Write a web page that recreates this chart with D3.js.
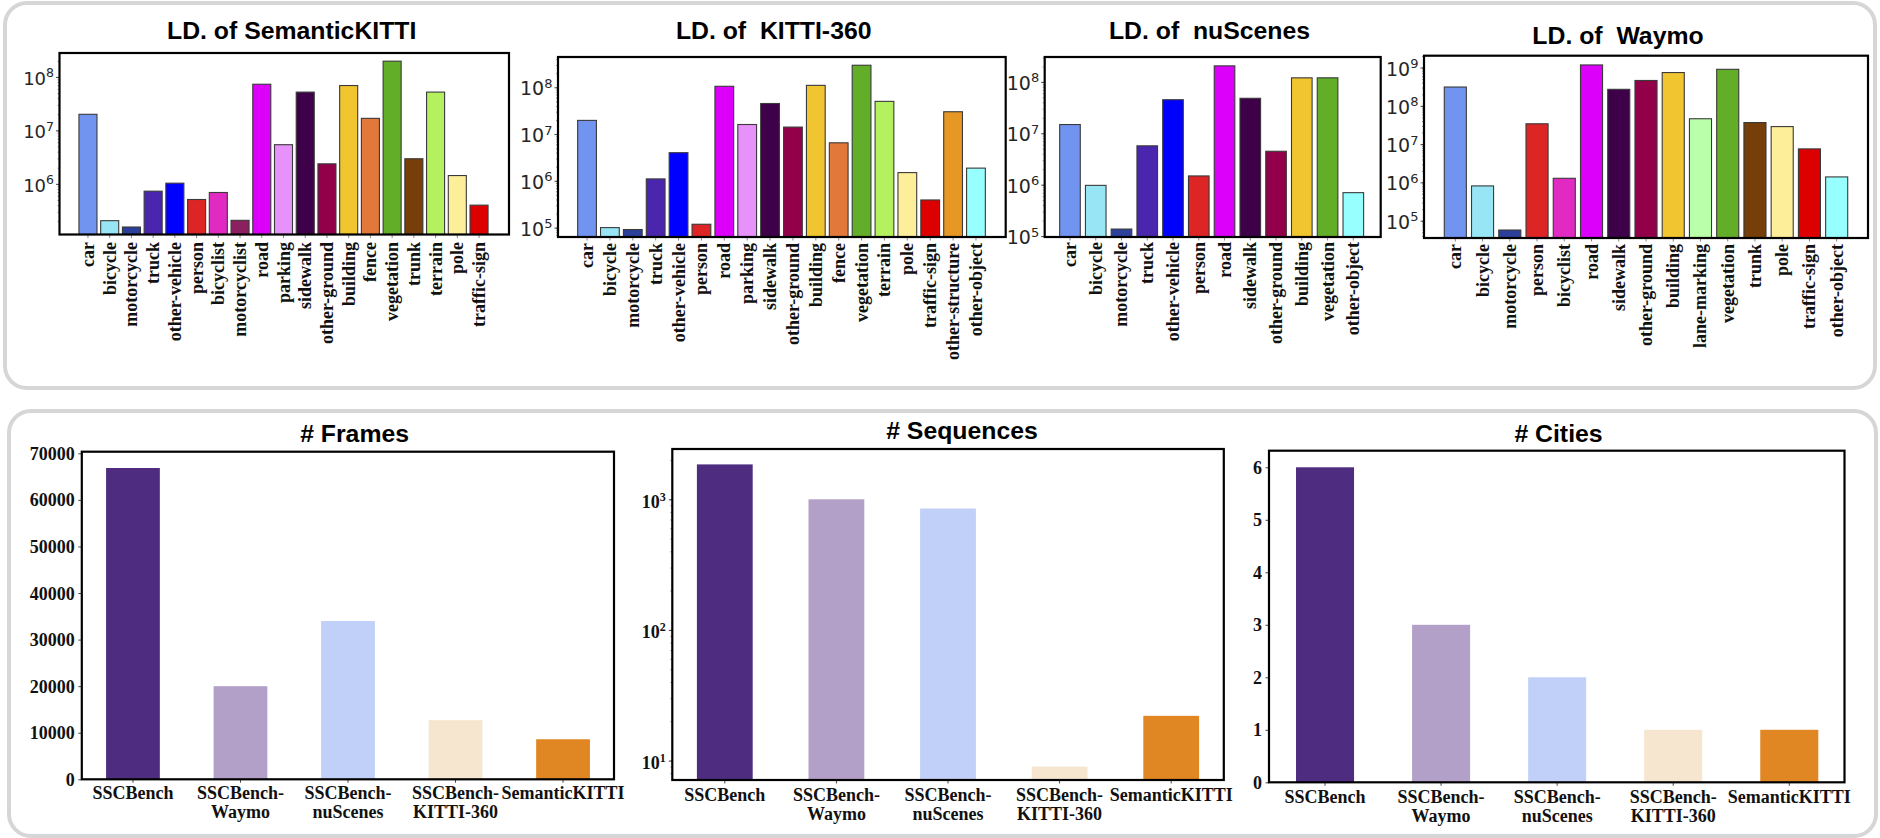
<!DOCTYPE html>
<html>
<head>
<meta charset="utf-8">
<title>Dataset statistics</title>
<script src="https://cdn.jsdelivr.net/npm/d3@7/dist/d3.min.js"></script>
<style>
    html, body { margin: 0; padding: 0; background: #fff; }
    svg { display: block; }
    .title { font-family: "Liberation Sans", Arial, sans-serif; font-weight: bold; font-size: 24.8px; fill: #000; white-space: pre; text-anchor: middle; }
    .cat text { font-family: "Liberation Serif", serif; font-weight: bold; font-size: 18px; fill: #111; }
    .val text { font-family: "DejaVu Sans", sans-serif; fill: #262626; }
    .bold-val text { font-family: "Liberation Serif", serif; font-weight: bold; font-size: 18px; fill: #111; }
</style>
</head>
<body>
<div id="chart"></div>
<script>
// Class names per dataset
const semanticKittiClasses = ['car', 'bicycle', 'motorcycle', 'truck', 'other-vehicle', 'person', 'bicyclist', 'motorcyclist', 'road', 'parking', 'sidewalk', 'other-ground', 'building', 'fence', 'vegetation', 'trunk', 'terrain', 'pole', 'traffic-sign'];
const kitti360Classes = ['car', 'bicycle', 'motorcycle', 'truck', 'other-vehicle', 'person', 'road', 'parking', 'sidewalk', 'other-ground', 'building', 'fence', 'vegetation', 'terrain', 'pole', 'traffic-sign', 'other-structure', 'other-object'];
const nuScenesClasses = ['car', 'bicycle', 'motorcycle', 'truck', 'other-vehicle', 'person', 'road', 'sidewalk', 'other-ground', 'building', 'vegetation', 'other-object'];
const waymoClasses = ['car', 'bicycle', 'motorcycle', 'person', 'bicyclist', 'road', 'sidewalk', 'other-ground', 'building', 'lane-marking', 'vegetation', 'trunk', 'pole', 'traffic-sign', 'other-object'];

// Label distribution values
const semanticKittiValues = [2.0e7, 2.05e5, 1.56e5, 7.3e5, 1.03e6, 5.1e5, 6.9e5, 2.08e5, 7.3e7, 5.4e6, 5.2e7, 2.37e6, 6.9e7, 1.68e7, 1.97e8, 2.95e6, 5.2e7, 1.43e6, 4.0e5];
const kitti360Values = [1.96e7, 1.0e5, 9.1e4, 1.1e6, 4.0e6, 1.18e5, 1.05e8, 1.6e7, 4.5e7, 1.41e7, 1.1e8, 6.5e6, 2.96e8, 5.0e7, 1.5e6, 3.9e5, 3.0e7, 1.87e6];
const nuScenesValues = [1.48e7, 9.7e5, 1.37e5, 5.7e6, 4.5e7, 1.48e6, 2.05e8, 4.8e7, 4.47e6, 1.2e8, 1.2e8, 7.0e5];
const waymoValues = [3.1e8, 8.1e5, 5.7e4, 3.4e7, 1.28e6, 1.17e9, 2.7e8, 4.6e8, 7.4e8, 4.6e7, 9.0e8, 3.66e7, 2.87e7, 7.5e6, 1.39e6];

// Dataset comparison
const datasets = ['SSCBench', 'SSCBench-Waymo', 'SSCBench-nuScenes', 'SSCBench-KITTI-360', 'SemanticKITTI'];
const datasetLabels = [['SSCBench'], ['SSCBench-', 'Waymo'], ['SSCBench-', 'nuScenes'], ['SSCBench-', 'KITTI-360'], ['SemanticKITTI']];
const frameCounts = [66850, 20000, 34000, 12700, 8600];
const sequenceCounts = [1850, 1000, 850, 9, 22];
const cityCounts = [6, 3, 2, 1, 1];
const frameTicks = [0, 10000, 20000, 30000, 40000, 50000, 60000, 70000];
const cityTicks = [0, 1, 2, 3, 4, 5, 6];

// Colours
const classColours = {
    'car': '#7094f0', 'bicycle': '#98e6f5', 'motorcycle': '#2c3f9a', 'truck': '#4a25ad',
    'other-vehicle': '#0000ff', 'person': '#de2525', 'bicyclist': '#e02ac2', 'motorcyclist': '#8a2060',
    'road': '#dc00fa', 'parking': '#e791fa', 'sidewalk': '#3e0048', 'other-ground': '#92004a',
    'building': '#f0c530', 'fence': '#e2783a', 'vegetation': '#62ae28', 'trunk': '#763e08',
    'terrain': '#b4f15f', 'pole': '#fdee9a', 'traffic-sign': '#dd0000', 'other-structure': '#e69724',
    'other-object': '#98ffff', 'lane-marking': '#baffaa'
};
const datasetColours = ['#4e2d80', '#b3a0c8', '#c1d0f8', '#f7e6cf', '#e08622'];

const svg = d3.select('#chart').append('svg')
    .attr('width', 1880)
    .attr('height', 838);

// Rounded panels behind the two rows
svg.append('rect').attr('x', 5).attr('y', 3).attr('width', 1870).attr('height', 385)
    .attr('rx', 22).attr('fill', 'none').attr('stroke', '#d6d6d6').attr('stroke-width', 4);
svg.append('rect').attr('x', 9).attr('y', 411).attr('width', 1867).attr('height', 425)
    .attr('rx', 22).attr('fill', 'none').attr('stroke', '#d6d6d6').attr('stroke-width', 4);

function drawFrame(g, box) {
    g.append('rect')
        .attr('x', box.left).attr('y', box.top)
        .attr('width', box.right - box.left).attr('height', box.bottom - box.top)
        .attr('fill', 'none').attr('stroke', '#000').attr('stroke-width', 2.2);
}

function drawTitle(text, x, y) {
    svg.append('text').attr('class', 'title').attr('x', x).attr('y', y).text(text);
}

// Writes "10" plus a raised exponent into each major tick label of a log axis
function powerLabels(axisG, dy, mainSize, supSize, supRise) {
    axisG.selectAll('.tick text').each(function(d) {
        const label = d3.select(this).text('').attr('dy', dy).style('font-size', mainSize + 'px');
        label.append('tspan').text('10');
        label.append('tspan')
            .attr('dy', -supRise)
            .style('font-size', supSize + 'px')
            .text(Math.round(Math.log10(d)));
    });
}

function logAxis(g, y, box, majors, opts) {
    // minor ticks first, d3 gives 1..9 per decade
    const minorG = g.append('g')
        .attr('transform', `translate(${box.left},0)`)
        .call(d3.axisLeft(y).tickValues(y.ticks()).tickSize(opts.minorSize).tickFormat(''));
    minorG.select('.domain').remove();
    minorG.selectAll('line').attr('stroke', '#555').attr('stroke-width', 0.6);

    const majorG = g.append('g')
        .attr('class', opts.labelClass)
        .attr('transform', `translate(${box.left},0)`)
        .call(d3.axisLeft(y).tickValues(majors).tickSize(opts.majorSize).tickPadding(opts.padding));
    majorG.select('.domain').remove();
    majorG.selectAll('line').attr('stroke', '#333').attr('stroke-width', 0.9);
    powerLabels(majorG, opts.dy, opts.mainSize, opts.supSize, opts.supRise);
}

// Top row: per class label distribution on a log axis
function drawDistribution(cfg) {
    const box = cfg.box;
    const g = svg.append('g');

    const x = d3.scaleBand()
        .domain(cfg.classes)
        .range(cfg.barRange)
        .paddingInner(cfg.gap)
        .paddingOuter(cfg.gap / 2);

    const y = d3.scaleLog()
        .domain(cfg.yDomain)
        .range([box.bottom, box.top]);

    g.selectAll('.bar')
        .data(cfg.classes)
        .enter()
        .append('rect')
        .attr('class', 'bar')
        .attr('x', d => x(d))
        .attr('width', x.bandwidth())
        .attr('y', (d, i) => y(cfg.values[i]))
        .attr('height', (d, i) => box.bottom - y(cfg.values[i]))
        .attr('fill', d => classColours[d])
        .attr('stroke', '#3a3a3a')
        .attr('stroke-width', 1.1);

    const xAxis = g.append('g')
        .attr('class', 'cat')
        .attr('transform', `translate(0,${box.bottom})`)
        .call(d3.axisBottom(x).tickSize(3.5));
    xAxis.select('.domain').remove();
    xAxis.selectAll('line').attr('stroke', '#666').attr('stroke-width', 0.8);
    xAxis.selectAll('.tick text')
        .attr('text-anchor', 'end')
        .attr('dy', 0)
        .attr('y', 0)
        .attr('transform', `translate(0,${cfg.labelGap}) rotate(-90)`)
        .attr('dominant-baseline', 'central');

    logAxis(g, y, box, cfg.majors, {
        labelClass: 'val', minorSize: 2, majorSize: 3.5, padding: 2,
        dy: cfg.labelDy, mainSize: cfg.mainSize, supSize: cfg.supSize, supRise: 7.5
    });

    drawFrame(g, box);
    drawTitle(cfg.title, cfg.titleX, cfg.titleY);
}

// Bottom row: one bar per dataset
function drawComparison(cfg) {
    const box = cfg.box;
    const g = svg.append('g');

    const x = d3.scaleBand()
        .domain(datasets)
        .range(cfg.barRange)
        .paddingInner(0.5)
        .paddingOuter(0.25);

    const y = cfg.y.range([box.bottom, box.top]);

    g.selectAll('.bar')
        .data(datasets)
        .enter()
        .append('rect')
        .attr('class', 'bar')
        .attr('x', d => x(d))
        .attr('width', x.bandwidth())
        .attr('y', (d, i) => y(cfg.values[i]))
        .attr('height', (d, i) => box.bottom - y(cfg.values[i]))
        .attr('fill', (d, i) => datasetColours[i]);

    const xAxis = g.append('g')
        .attr('class', 'bold-val')
        .attr('transform', `translate(0,${box.bottom})`)
        .call(d3.axisBottom(x).tickSize(3.5));
    xAxis.select('.domain').remove();
    xAxis.selectAll('line').attr('stroke', '#333').attr('stroke-width', 0.9);
    xAxis.selectAll('.tick text').each(function(d, i) {
        const label = d3.select(this).text('').attr('dy', 0).attr('y', cfg.labelY);
        datasetLabels[i].forEach((line, n) => {
            label.append('tspan').attr('x', 0).attr('dy', n === 0 ? 0 : 18.5).text(line);
        });
    });

    if (cfg.majors) {
        logAxis(g, y, box, cfg.majors, {
            labelClass: 'bold-val', minorSize: 2, majorSize: 3.5, padding: 3,
            dy: 8, mainSize: 18, supSize: 12, supRise: 7
        });
    } else {
        const yAxis = g.append('g')
            .attr('class', 'bold-val')
            .attr('transform', `translate(${box.left},0)`)
            .call(d3.axisLeft(y).tickValues(cfg.ticks).tickSize(3.5).tickPadding(3.5).tickFormat(d3.format('d')));
        yAxis.select('.domain').remove();
        yAxis.selectAll('line').attr('stroke', '#333').attr('stroke-width', 0.9);
        yAxis.selectAll('.tick text').attr('dy', 6);
    }

    drawFrame(g, box);
    drawTitle(cfg.title, cfg.titleX, cfg.titleY);
}

drawDistribution({
    title: 'LD. of SemanticKITTI', titleX: 291.7, titleY: 38.5,
    classes: semanticKittiClasses, values: semanticKittiValues,
    box: { left: 59.5, right: 509, top: 53, bottom: 234.5 },
    barRange: [77.1, 489.9], gap: 0.17,
    yDomain: [1.13e5, 2.8e8], majors: [1e6, 1e7, 1e8],
    labelGap: 7.5, labelDy: 7.5, mainSize: 18, supSize: 12.5
});

drawDistribution({
    title: 'LD. of  KITTI-360', titleX: 773.7, titleY: 38.5,
    classes: kitti360Classes, values: kitti360Values,
    box: { left: 558, right: 1005.7, top: 57, bottom: 237 },
    barRange: [575.6, 987.4], gap: 0.18,
    yDomain: [6.3e4, 4.44e8], majors: [1e5, 1e6, 1e7, 1e8],
    labelGap: 6, labelDy: 7.5, mainSize: 19, supSize: 13
});

drawDistribution({
    title: 'LD. of  nuScenes', titleX: 1209.5, titleY: 38.5,
    classes: nuScenesClasses, values: nuScenesValues,
    box: { left: 1044.7, right: 1380.7, top: 57, bottom: 237 },
    barRange: [1057.1, 1366.2], gap: 0.2,
    yDomain: [9.6e4, 3.05e8], majors: [1e5, 1e6, 1e7, 1e8],
    labelGap: 5, labelDy: 7.5, mainSize: 19, supSize: 13
});

drawDistribution({
    title: 'LD. of  Waymo', titleX: 1618, titleY: 43.5,
    classes: waymoClasses, values: waymoValues,
    box: { left: 1424, right: 1868, top: 55.7, bottom: 238 },
    barRange: [1441.7, 1850.3], gap: 0.19,
    yDomain: [3.53e4, 2.04e9], majors: [1e5, 1e6, 1e7, 1e8, 1e9],
    labelGap: 6, labelDy: 7.5, mainSize: 19, supSize: 13
});

drawComparison({
    title: '# Frames', titleX: 354.6, titleY: 441.7,
    values: frameCounts, ticks: frameTicks,
    box: { left: 81.8, right: 614, top: 451.7, bottom: 779.3 },
    barRange: [79.2, 616.8],
    y: d3.scaleLinear().domain([0, 70350]),
    labelY: 20
});

drawComparison({
    title: '# Sequences', titleX: 962, titleY: 439.3,
    values: sequenceCounts, majors: [10, 100, 1000],
    box: { left: 672.3, right: 1223.8, top: 449, bottom: 780 },
    barRange: [669, 1227],
    y: d3.scaleLog().domain([7.1, 2427]),
    labelY: 21
});

drawComparison({
    title: '# Cities', titleX: 1558.5, titleY: 442.3,
    values: cityCounts, ticks: cityTicks,
    box: { left: 1269, right: 1844.5, top: 450.7, bottom: 782.3 },
    barRange: [1267, 1847.3],
    y: d3.scaleLinear().domain([0, 6.316]),
    labelY: 21
});
</script>
</body>
</html>
